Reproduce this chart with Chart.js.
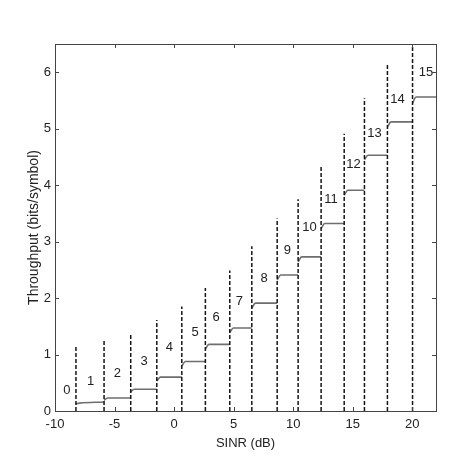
<!DOCTYPE html>
<html>
<head>
<meta charset="utf-8">
<script src="https://cdn.jsdelivr.net/npm/chart.js@4/dist/chart.umd.min.js"></script>
<style>
html,body{margin:0;padding:0;background:#fff;}
#wrap{width:474px;height:474px;position:relative;}
</style>
</head>
<body>
<div id="wrap"><canvas id="c"></canvas></div>
<script>
// CQI switching thresholds (SINR, dB)
const thresholds = [-8.24, -5.88, -3.64, -1.45, 0.65, 2.63, 4.68, 6.53, 8.66, 10.42, 12.35, 14.29, 15.99, 17.92, 20.03];
// height of each dashed threshold line (bits/symbol)
const lineTops = [1.16, 1.24, 1.37, 1.61, 1.85, 2.18, 2.49, 2.92, 3.41, 3.75, 4.34, 4.91, 5.54, 6.13, 6.5];
// throughput level of each CQI step (bits/symbol)
const throughput = [0.16, 0.23, 0.385, 0.6, 0.877, 1.18, 1.47, 1.91, 2.41, 2.73, 3.32, 3.91, 4.53, 5.12, 5.56];
// value at the start of each step (rounded corner)
const stepStart = [0.13, 0.19, 0.34, 0.53, 0.8, 1.1, 1.39, 1.82, 2.32, 2.64, 3.23, 3.82, 4.45, 5.03, 5.45];
// CQI index labels and their positions
const cqiLabels = ['0','1','2','3','4','5','6','7','8','9','10','11','12','13','14','15'];
const labelX = [-9.0, -7.0, -4.77, -2.52, -0.4, 1.76, 3.53, 5.49, 7.56, 9.52, 11.37, 13.19, 15.07, 16.83, 18.76, 21.15];
const labelY = [0.36, 0.52, 0.67, 0.88, 1.13, 1.40, 1.65, 1.94, 2.34, 2.85, 3.26, 3.75, 4.37, 4.91, 5.51, 5.99];
// axis ranges / ticks
const xMin = -10, xMax = 22, xStep = 5;
const yMin = 0, yMax = 6.5, yStep = 1;

const KNEE = 0.3;
const stepData = [];
for (let i = 0; i < thresholds.length; i++) {
  const x0 = thresholds[i];
  const x1 = i + 1 < thresholds.length ? thresholds[i + 1] : xMax;
  stepData.push({x: x0, y: stepStart[i]});
  stepData.push({x: x0 + KNEE, y: throughput[i] - (i === 0 ? 0.02 : 0)});
  stepData.push({x: x1, y: throughput[i]});
  stepData.push({x: x1, y: null});
}
const dashData = [];
for (let i = 0; i < thresholds.length; i++) {
  dashData.push({x: thresholds[i], y: 0});
  dashData.push({x: thresholds[i], y: lineTops[i]});
  dashData.push({x: thresholds[i], y: null});
}

const FONT = "'Liberation Sans', Arial, sans-serif";
const TXT = '#222';

const framePlugin = {
  id: 'frame',
  afterDatasetsDraw(chart) {
    const ctx = chart.ctx;
    const a = chart.chartArea;
    const xs = chart.scales.x, ys = chart.scales.y;
    ctx.save();
    // labels
    ctx.fillStyle = TXT;
    ctx.font = '13px ' + FONT;
    ctx.textAlign = 'center';
    ctx.textBaseline = 'middle';
    for (let i = 0; i < cqiLabels.length; i++) {
      ctx.fillText(cqiLabels[i], xs.getPixelForValue(labelX[i]), ys.getPixelForValue(labelY[i]));
    }
    // box
    ctx.strokeStyle = '#444';
    ctx.lineWidth = 1;
    ctx.strokeRect(Math.round(a.left) + 0.5, Math.round(a.top) + 0.5, Math.round(a.right - a.left), Math.round(a.bottom - a.top));
    // inward ticks
    const L = 4;
    ctx.beginPath();
    xs.ticks.forEach(t => {
      const px = Math.round(xs.getPixelForValue(t.value)) + 0.5;
      ctx.moveTo(px, a.bottom); ctx.lineTo(px, a.bottom - L);
      ctx.moveTo(px, a.top); ctx.lineTo(px, a.top + L);
    });
    ys.ticks.forEach(t => {
      const py = Math.round(ys.getPixelForValue(t.value)) + 0.5;
      ctx.moveTo(a.left, py); ctx.lineTo(a.left + L, py);
      ctx.moveTo(a.right, py); ctx.lineTo(a.right - L, py);
    });
    ctx.stroke();
    ctx.restore();
  }
};

new Chart(document.getElementById('c'), {
  type: 'scatter',
  data: {
    datasets: [
      {
        data: dashData, showLine: true, spanGaps: false,
        borderColor: '#151515', borderWidth: 1.5, borderDash: [4, 2],
        pointRadius: 0, order: 0
      },
      {
        data: stepData, showLine: true, spanGaps: false,
        borderColor: '#6e6e6e', borderWidth: 1.6,
        cubicInterpolationMode: 'monotone',
        pointRadius: 0, order: 1
      }
    ]
  },
  options: {
    responsive: true, maintainAspectRatio: false, animation: false,
    layout: {padding: {top: 44, right: 38, left: 0, bottom: 0}},
    plugins: {legend: {display: false}, tooltip: {enabled: false}},
    scales: {
      x: {
        type: 'linear', min: xMin, max: xMax,
        afterFit(s) { s.height = 63; },
        grid: {display: false, drawTicks: false},
        border: {display: false},
        ticks: {stepSize: xStep, includeBounds: false, color: TXT, font: {family: FONT, size: 13}, padding: 6, maxRotation: 0},
        title: {display: true, text: 'SINR (dB)', color: TXT, font: {family: FONT, size: 13}, padding: {top: 4, bottom: 23}}
      },
      y: {
        type: 'linear', min: yMin, max: yMax,
        afterFit(s) { s.width = 55; },
        grid: {display: false, drawTicks: false},
        border: {display: false},
        ticks: {stepSize: yStep, includeBounds: false, color: TXT, font: {family: FONT, size: 13}, padding: 4},
        title: {display: true, text: 'Throughput (bits/symbol)', color: TXT, font: {family: FONT, size: 14}, padding: {top: 26, bottom: 4}}
      }
    }
  },
  plugins: [framePlugin]
});
</script>
</body>
</html>
